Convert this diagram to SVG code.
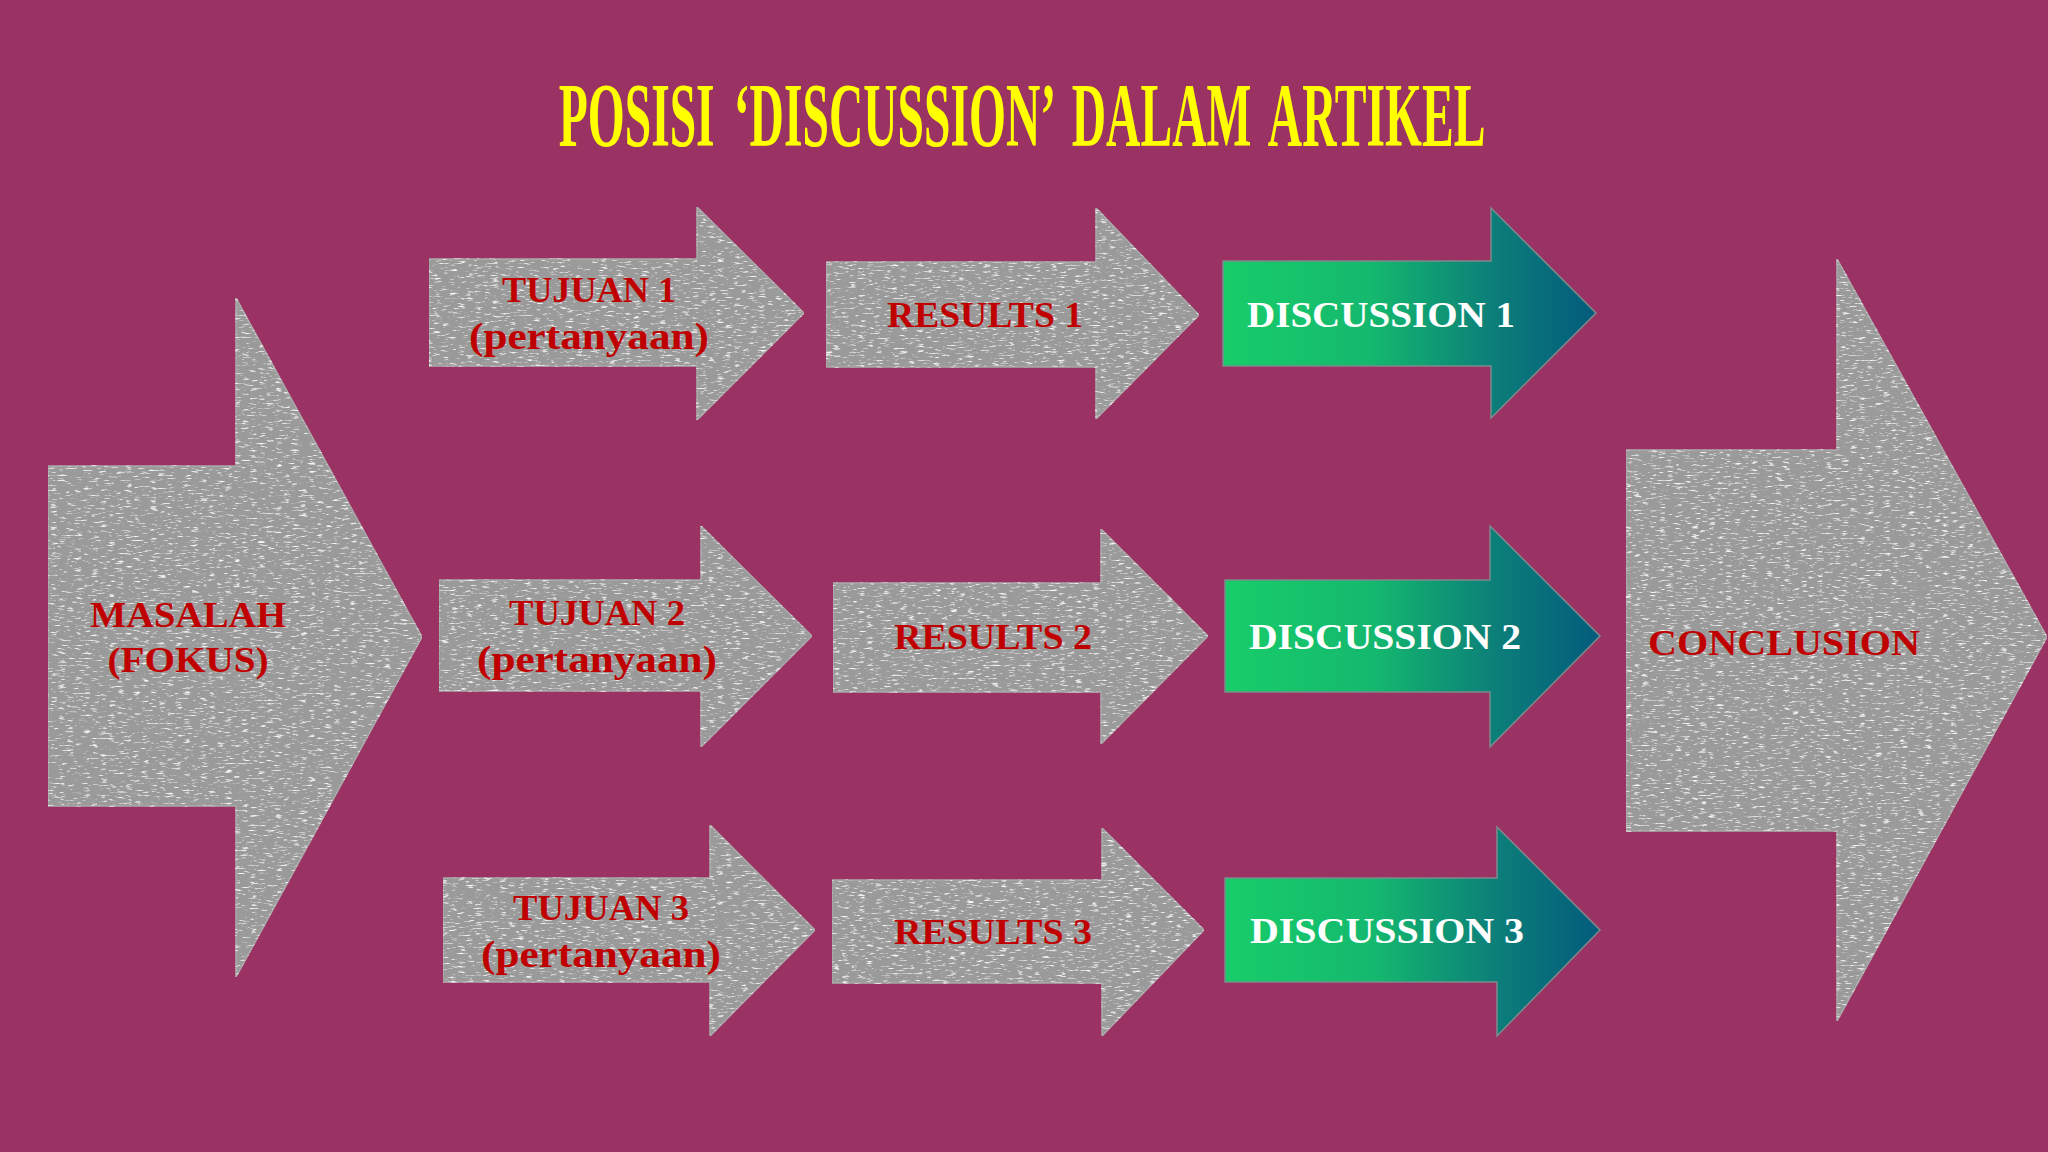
<svg xmlns="http://www.w3.org/2000/svg" width="2048" height="1152" viewBox="0 0 2048 1152">
<style>
.grey{fill:#9a9a9a;stroke:#ababab;stroke-width:1.5;filter:url(#tex)}
.disc{fill:url(#dg);stroke:#7e8a8c;stroke-width:1.5}
.red{font-family:"Liberation Serif","DejaVu Serif",serif;font-weight:bold;fill:#c00000;text-anchor:middle}
.wht{font-family:"Liberation Serif","DejaVu Serif",serif;font-weight:bold;fill:#ffffff;text-anchor:middle;font-size:36px}
.t1{font-size:36px}
.t2{font-size:38px}
.title{font-family:"Liberation Serif","DejaVu Serif",serif;font-weight:bold;font-size:92px;text-anchor:middle;fill:#ffff00;word-spacing:14px}
</style>
<defs>
<linearGradient id="dg" x1="0" y1="0" x2="1" y2="0">
<stop offset="0" stop-color="#18cd69"/>
<stop offset="0.4" stop-color="#14b86e"/>
<stop offset="0.72" stop-color="#0c7f79"/>
<stop offset="1" stop-color="#035b7c"/>
</linearGradient>
<filter id="tex" x="0" y="0" width="1" height="1">
<feTurbulence type="fractalNoise" baseFrequency="0.12 0.6" numOctaves="3" seed="4" result="n"/>
<feColorMatrix in="n" type="matrix" values="0 0 0 0 0.92  0 0 0 0 0.92  0 0 0 0 0.92  4 0 0 0 -2.3" result="sp"/>
<feComposite in="sp" in2="SourceGraphic" operator="in" result="spc"/>
<feMerge><feMergeNode in="SourceGraphic"/><feMergeNode in="spc"/></feMerge>
</filter>
</defs>
<rect x="0" y="0" width="2048" height="1152" fill="#9a3364"/>
<g id="title">
<text class="title" transform="scale(0.517 1)" x="1977" y="146">POSISI ‘DISCUSSION’ DALAM ARTIKEL</text>
</g>
<g id="connectors"/>
<g id="masalah">
<polygon class="grey" points="48,466 236,466 236,298 422,637 236,977 236,806 48,806"/>
<text class="red t1" x="188" y="627" textLength="196" lengthAdjust="spacingAndGlyphs">MASALAH</text>
<text class="red t1" x="188" y="672" textLength="161" lengthAdjust="spacingAndGlyphs">(FOKUS)</text>
</g>
<g id="tujuan1">
<polygon class="grey" points="429,259 697,259 697,207 804,313 697,420 697,366 429,366"/>
<text class="red t1" x="589" y="302" textLength="174" lengthAdjust="spacingAndGlyphs">TUJUAN 1</text>
<text class="red t2" x="589" y="349" textLength="240" lengthAdjust="spacingAndGlyphs">(pertanyaan)</text>
</g>
<g id="results1">
<polygon class="grey" points="826,262 1096,262 1096,208 1199,315 1096,419 1096,367 826,367"/>
<text class="red t1" x="985" y="327" textLength="196" lengthAdjust="spacingAndGlyphs">RESULTS 1</text>
</g>
<g id="discussion1">
<polygon class="disc" points="1223,261 1491,261 1491,208 1596,313 1491,418 1491,366 1223,366"/>
<text class="wht" x="1381" y="327" textLength="268" lengthAdjust="spacingAndGlyphs">DISCUSSION 1</text>
</g>
<g id="tujuan2">
<polygon class="grey" points="439,580 701,580 701,526 812,636 701,747 701,691 439,691"/>
<text class="red t1" x="597" y="625" textLength="176" lengthAdjust="spacingAndGlyphs">TUJUAN 2</text>
<text class="red t2" x="597" y="672" textLength="240" lengthAdjust="spacingAndGlyphs">(pertanyaan)</text>
</g>
<g id="results2">
<polygon class="grey" points="833,583 1101,583 1101,529 1208,636 1101,744 1101,692 833,692"/>
<text class="red t1" x="993" y="649" textLength="198" lengthAdjust="spacingAndGlyphs">RESULTS 2</text>
</g>
<g id="discussion2">
<polygon class="disc" points="1225,580 1490,580 1490,526 1600,636 1490,747 1490,692 1225,692"/>
<text class="wht" x="1385" y="649" textLength="272" lengthAdjust="spacingAndGlyphs">DISCUSSION 2</text>
</g>
<g id="tujuan3">
<polygon class="grey" points="443,878 710,878 710,825 815,930 710,1036 710,982 443,982"/>
<text class="red t1" x="601" y="920" textLength="176" lengthAdjust="spacingAndGlyphs">TUJUAN 3</text>
<text class="red t2" x="601" y="967" textLength="240" lengthAdjust="spacingAndGlyphs">(pertanyaan)</text>
</g>
<g id="results3">
<polygon class="grey" points="832,880 1102,880 1102,828 1204,930 1102,1036 1102,983 832,983"/>
<text class="red t1" x="993" y="944" textLength="198" lengthAdjust="spacingAndGlyphs">RESULTS 3</text>
</g>
<g id="discussion3">
<polygon class="disc" points="1225,878 1497,878 1497,827 1600,930 1497,1036 1497,982 1225,982"/>
<text class="wht" x="1387" y="943" textLength="274" lengthAdjust="spacingAndGlyphs">DISCUSSION 3</text>
</g>
<g id="conclusion">
<polygon class="grey" points="1626,450 1837,450 1837,259 2047,637 1837,1021 1837,831 1626,831"/>
<text class="red t1" x="1784" y="655" textLength="272" lengthAdjust="spacingAndGlyphs">CONCLUSION</text>
</g>
</svg>
